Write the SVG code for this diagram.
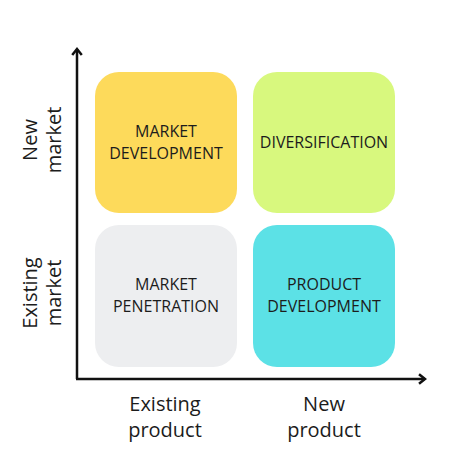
<svg xmlns="http://www.w3.org/2000/svg" width="474" height="474" viewBox="0 0 474 474">
<style>
.box{stroke:none}
.lbl{font-family:"Open Sans","Liberation Sans",sans-serif;font-size:16px;fill:#1c1c1c;text-anchor:middle}
.ax{font-family:"Open Sans","Liberation Sans",sans-serif;font-size:20px;fill:#1c1c1c;text-anchor:middle}
.axis{stroke:#111;stroke-width:2.5;fill:none}
.head{stroke:#111;stroke-width:2.5;fill:none;stroke-linecap:square}
</style>
<rect width="474" height="474" fill="#fff"/>
<g id="connectors">
<line class="axis" x1="77" y1="379" x2="77" y2="49"/>
<polyline class="head" points="73,54 77,49 81,54"/>
<line class="axis" x1="76" y1="379" x2="425" y2="379"/>
<polyline class="head" points="420,375 425,379 420,383"/>
</g>
<g id="market-development">
<rect class="box" x="95" y="72" width="142" height="141" rx="24" fill="#FDDA5B"/>
<text class="lbl" x="166" y="137">MARKET</text>
<text class="lbl" x="166" y="159">DEVELOPMENT</text>
</g>
<g id="diversification">
<rect class="box" x="253" y="72" width="142" height="141" rx="24" fill="#D8F87E"/>
<text class="lbl" x="324" y="148">DIVERSIFICATION</text>
</g>
<g id="market-penetration">
<rect class="box" x="95" y="225" width="142" height="142" rx="24" fill="#EDEEF0"/>
<text class="lbl" x="166" y="290">MARKET</text>
<text class="lbl" x="166" y="312">PENETRATION</text>
</g>
<g id="product-development">
<rect class="box" x="253" y="225" width="142" height="142" rx="24" fill="#5CE1E6"/>
<text class="lbl" x="324" y="290">PRODUCT</text>
<text class="lbl" x="324" y="312">DEVELOPMENT</text>
</g>
<g id="axis-labels">
<text class="ax" x="165" y="411">Existing</text>
<text class="ax" x="165" y="437">product</text>
<text class="ax" x="324" y="411">New</text>
<text class="ax" x="324" y="437">product</text>
<text class="ax" transform="translate(37,140) rotate(-90)">New</text>
<text class="ax" transform="translate(61,140) rotate(-90)">market</text>
<text class="ax" transform="translate(37,293) rotate(-90)">Existing</text>
<text class="ax" transform="translate(61,293) rotate(-90)">market</text>
</g>
</svg>
